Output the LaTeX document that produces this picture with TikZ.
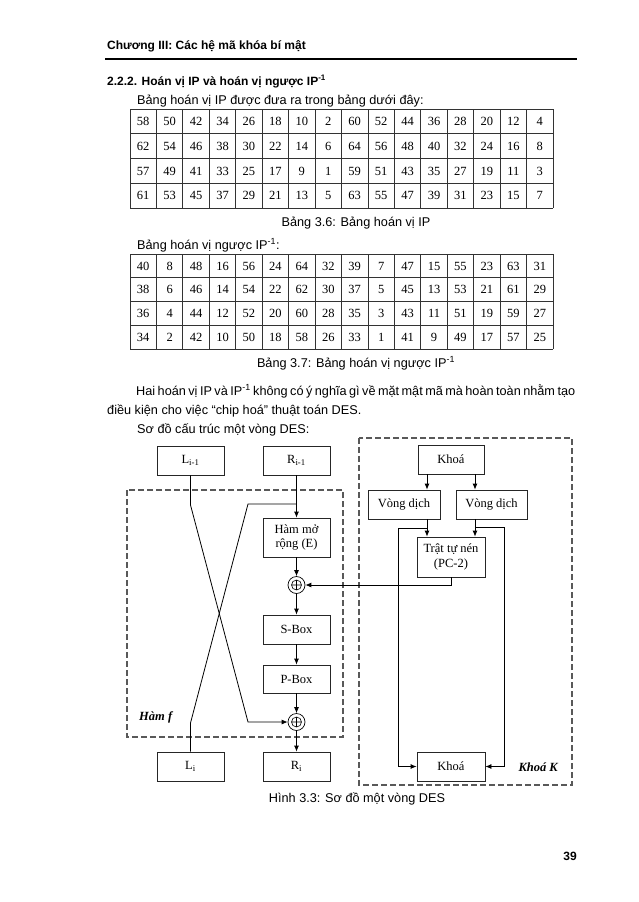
\documentclass[tikz,border=0pt]{standalone}
\usepackage{fontspec}
\setmainfont{Liberation Sans}
\newfontfamily\tnr{Liberation Serif}
\usetikzlibrary{arrows.meta,calc}
\newcommand\bodyfs{\fontsize{12.7}{15}\selectfont}
\newcommand\headfs{\fontsize{12}{14}\selectfont\bfseries}
\tikzset{
  txt/.style={inner sep=0pt, anchor=base west, font=\bodyfs},
  cell/.style={inner sep=0pt, text height=8.5pt, text depth=0pt, anchor=center, font=\tnr\fontsize{12.5}{14}\selectfont},
  tline/.style={draw=black!80, line width=0.8pt},
  box/.style={draw=black!85, line width=0.8pt, inner sep=0pt, align=center,
    minimum width=67pt, minimum height=29pt, font=\tnr\fontsize{12.5}{14.5}\selectfont},
  dashbox/.style={draw=black!65, line width=1.2pt, dash pattern=on 6pt off 3pt},
  conn/.style={line width=0.8pt},
  arr/.style={conn, -{Latex[length=6pt,width=5pt]}},
  xorc/.style={circle, draw, line width=0.7pt, minimum size=17pt, inner sep=0pt,
    path picture={\draw[line width=0.6pt] (path picture bounding box.center) circle (5pt)
      ++(-5pt,0) -- ++(10pt,0) ++(-5pt,-5pt) -- ++(0,10pt);}},
  lab/.style={inner sep=0pt, font=\tnr\fontsize{12.5}{14}\selectfont\bfseries\itshape}
}
\begin{document}
\begin{tikzpicture}[x=1pt,y=-1pt]
\useasboundingbox[fill=white] (0,0) rectangle (638,902);

% header
\node[txt, font=\headfs] (hdr) at (107,49) {Chương III: Các hệ mã khóa bí mật};
\coordinate (hl1) at (105,59);
\coordinate (hl2) at (577,59);
\draw[line width=1.5pt] (hl1) -- (hl2);
\node[txt, font=\headfs] (sec) at (107,85) {2.2.2. Hoán vị IP và hoán vị ngược IP\textsuperscript{-1}};
\node[txt] (p1) at (137,104) {Bảng hoán vị IP được đưa ra trong bảng dưới đây:};

% table 1
\foreach \i in {0,...,16} \draw[tline] ({130+\i*26.4375},109) -- ({130+\i*26.4375},208);
\foreach \j in {0,...,4} \draw[tline] (130,{109+\j*24.75}) -- (553,{109+\j*24.75});
\foreach \row [count=\r] in {
  {58,50,42,34,26,18,10,2,60,52,44,36,28,20,12,4},
  {62,54,46,38,30,22,14,6,64,56,48,40,32,24,16,8},
  {57,49,41,33,25,17,9,1,59,51,43,35,27,19,11,3},
  {61,53,45,37,29,21,13,5,63,55,47,39,31,23,15,7}}{
  \foreach \v [count=\c] in \row {
    \node[cell] (ta-\r-\c) at ({130+(\c-0.5)*26.4375},{109+(\r-0.5)*24.75}) {\v};
  }
}
\node[inner sep=0pt, anchor=base, font=\bodyfs] (cap1) at (356,226) {Bảng 3.6: Bảng hoán vị IP};

\node[txt] (p2) at (137,249) {Bảng hoán vị ngược IP\textsuperscript{-1}:};

% table 2
\foreach \i in {0,...,16} \draw[tline] ({130+\i*26.4375},254) -- ({130+\i*26.4375},349);
\foreach \j in {0,...,4} \draw[tline] (130,{254+\j*23.75}) -- (553,{254+\j*23.75});
\foreach \row [count=\r] in {
  {40,8,48,16,56,24,64,32,39,7,47,15,55,23,63,31},
  {38,6,46,14,54,22,62,30,37,5,45,13,53,21,61,29},
  {36,4,44,12,52,20,60,28,35,3,43,11,51,19,59,27},
  {34,2,42,10,50,18,58,26,33,1,41,9,49,17,57,25}}{
  \foreach \v [count=\c] in \row {
    \node[cell] (tb-\r-\c) at ({130+(\c-0.5)*26.4375},{254+(\r-0.5)*23.75}) {\v};
  }
}
\node[inner sep=0pt, anchor=base, font=\bodyfs] (cap2) at (356,367) {Bảng 3.7: Bảng hoán vị ngược IP\textsuperscript{-1}};

% paragraph
\node[txt] (p3) at (136,395) {\makebox[439pt][s]{Hai hoán vị IP và IP\textsuperscript{-1} không có ý nghĩa gì về mặt mật mã mà hoàn toàn nhằm tạo}};
\node[txt] (p4) at (107,414) {điều kiện cho việc “chip hoá” thuật toán DES.};
\node[txt] (p5) at (137,433) {Sơ đồ cấu trúc một vòng DES:};

% ---------- diagram ----------
\draw[dashbox] (127,490) rectangle (343,737);
\draw[dashbox] (359,438) rectangle (572,785);

\node[box] (Lp) at (190.5,460.5) {L\textsubscript{i-1}};
\node[box] (Rp) at (296.5,460.5) {R\textsubscript{i-1}};
\node[box, minimum height=39pt] (E) at (296.5,537.5) {Hàm mở\\rộng (E)};
\node[xorc] (x1) at (296.5,585) {};
\node[box] (SB) at (296.5,629.5) {S-Box};
\node[box, minimum height=28pt] (PB) at (296.5,679) {P-Box};
\node[xorc] (x2) at (296.5,722) {};
\node[box] (Li) at (190.5,766.5) {L\textsubscript{i}};
\node[box] (Ri) at (296.5,766.5) {R\textsubscript{i}};
\node[lab, anchor=west] (hf) at (139,717) {Hàm f};

\node[box, minimum width=66pt] (K1) at (451,459.5) {Khoá};
\node[box, minimum width=72pt] (V1) at (404,504.5) {Vòng dịch};
\node[box, minimum width=71pt] (V2) at (491.5,504.5) {Vòng dịch};
\node[box, minimum width=68pt, minimum height=40pt] (PC) at (451,557) {Trật tự nén\\(PC-2)};
\node[box, minimum width=68pt] (K2) at (451,766.5) {Khoá};
\node[lab, anchor=east] (kk) at (558,767) {Khoá K};

% left connectors
\coordinate (c1) at (190.5,505);
\coordinate (c2) at (248,722);
\coordinate (c3) at (248,504);
\coordinate (c4) at (190.5,723);
\draw[arr] (Lp.south) -- (c1) -- (c2) -- (x2.west);
\draw[conn] (c3 -| Rp) -- (c3) -- (c4) -- (Li.north);
\draw[arr] (Rp.south) -- (E.north);
\draw[arr] (E.south) -- (x1.north);
\draw[arr] (x1.south) -- (SB.north);
\draw[arr] (SB.south) -- (PB.north);
\draw[arr] (PB.south) -- (x2.north);
\draw[arr] (x2.south) -- (Ri.north);

% right connectors
\coordinate (ka) at (427,0);
\coordinate (kc) at (475,0);
\coordinate (kb) at (398,528);
\coordinate (kd) at (504,527);
\draw[arr] (K1.south -| ka) -- (V1.north -| ka);
\draw[arr] (K1.south -| kc) -- (V2.north -| kc);
\draw[arr] (V1.south -| ka) -- (PC.north -| ka);
\draw[arr] (V2.south -| kc) -- (PC.north -| kc);
\draw[arr] (kb -| ka) -- (kb) |- (K2.west);
\draw[arr] (kd -| kc) -- (kd) |- (K2.east);
\draw[arr] (PC.south) |- (x1.east);

\node[inner sep=0pt, anchor=base, font=\bodyfs] (cap3) at (357,802) {Hình 3.3: Sơ đồ một vòng DES};
\node[inner sep=0pt, anchor=base east, font=\headfs] (pg) at (577,860) {39};
\end{tikzpicture}
\end{document}
